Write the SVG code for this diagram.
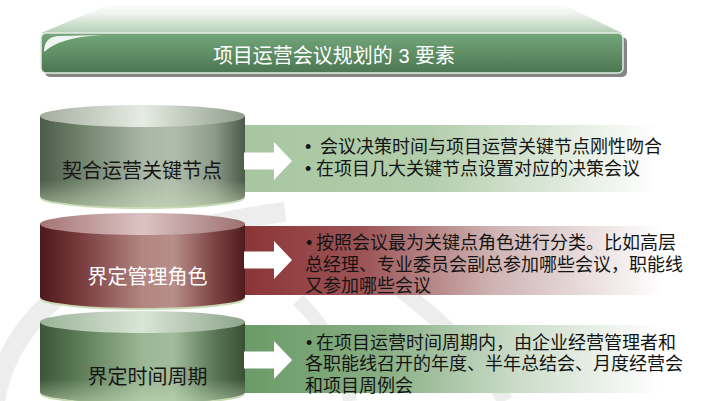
<svg xmlns="http://www.w3.org/2000/svg" width="720" height="401" viewBox="0 0 720 401">
<defs>
<style>
.cjk{font-family:"Liberation Sans","Noto Sans CJK SC",sans-serif;}
.title{font-size:20px;fill:#ffffff;}
.cyl{font-size:20px;}
.dark{fill:#161616;}
.light{fill:#ffffff;}
.body{font-size:18px;fill:#141414;}
.arrow{fill:#ffffff;}
.bg{fill:none;stroke:#ededed;}
</style>
<linearGradient id="trap" x1="0" y1="0" x2="0" y2="1">
<stop offset="0" stop-color="#ffffff"/>
<stop offset="0.35" stop-color="#eef4ee"/>
<stop offset="1" stop-color="#b3ceb3"/>
</linearGradient>
<linearGradient id="bar" x1="0" y1="0" x2="0" y2="1">
<stop offset="0" stop-color="#75a77b"/>
<stop offset="1" stop-color="#4b7650"/>
</linearGradient>
<linearGradient id="box1" x1="0" y1="0" x2="1" y2="0">
<stop offset="0" stop-color="#a7c6a0"/>
<stop offset="0.45" stop-color="#b2cdab"/>
<stop offset="0.75" stop-color="#dce8d9"/>
<stop offset="1" stop-color="#ffffff"/>
</linearGradient>
<linearGradient id="box2" x1="0" y1="0" x2="1" y2="0">
<stop offset="0" stop-color="#8b3336"/>
<stop offset="0.3" stop-color="#9d5557"/>
<stop offset="0.6" stop-color="#cfb3b3"/>
<stop offset="1" stop-color="#ffffff"/>
</linearGradient>
<linearGradient id="box3" x1="0" y1="0" x2="1" y2="0">
<stop offset="0" stop-color="#699a66"/>
<stop offset="0.35" stop-color="#89af85"/>
<stop offset="0.65" stop-color="#c9dbc7"/>
<stop offset="1" stop-color="#ffffff"/>
</linearGradient>
<linearGradient id="cb1" x1="40" y1="0" x2="245" y2="0" gradientUnits="userSpaceOnUse">
<stop offset="0" stop-color="#4b5c49"/>
<stop offset="0.18" stop-color="#6d7e69"/>
<stop offset="0.5" stop-color="#a8b6a3"/>
<stop offset="0.65" stop-color="#b1bdab"/>
<stop offset="0.85" stop-color="#8d9b89"/>
<stop offset="1" stop-color="#4c5b49"/>
</linearGradient>
<linearGradient id="ct1" x1="40" y1="0" x2="245" y2="0" gradientUnits="userSpaceOnUse">
<stop offset="0" stop-color="#a3ad9e"/>
<stop offset="0.5" stop-color="#e6ece3"/>
<stop offset="1" stop-color="#8e9b8a"/>
</linearGradient>
<linearGradient id="cb2" x1="40" y1="0" x2="245" y2="0" gradientUnits="userSpaceOnUse">
<stop offset="0" stop-color="#4d191b"/>
<stop offset="0.2" stop-color="#7a3c3e"/>
<stop offset="0.5" stop-color="#b28682"/>
<stop offset="0.65" stop-color="#b88e8a"/>
<stop offset="0.85" stop-color="#7e4445"/>
<stop offset="1" stop-color="#4e1b1d"/>
</linearGradient>
<linearGradient id="ct2" x1="40" y1="0" x2="245" y2="0" gradientUnits="userSpaceOnUse">
<stop offset="0" stop-color="#a57474"/>
<stop offset="0.5" stop-color="#dcc3c3"/>
<stop offset="1" stop-color="#9c7070"/>
</linearGradient>
<linearGradient id="cb3" x1="40" y1="0" x2="245" y2="0" gradientUnits="userSpaceOnUse">
<stop offset="0" stop-color="#3a5537"/>
<stop offset="0.2" stop-color="#5e7e59"/>
<stop offset="0.5" stop-color="#9bb795"/>
<stop offset="0.65" stop-color="#a2bc9b"/>
<stop offset="0.85" stop-color="#5b7757"/>
<stop offset="1" stop-color="#395034"/>
</linearGradient>
<linearGradient id="ct3" x1="40" y1="0" x2="245" y2="0" gradientUnits="userSpaceOnUse">
<stop offset="0" stop-color="#9ab398"/>
<stop offset="0.5" stop-color="#d9e6d6"/>
<stop offset="1" stop-color="#8da48a"/>
</linearGradient>
<linearGradient id="shine" x1="0" y1="0" x2="0" y2="1">
<stop offset="0" stop-color="#c8dcb8" stop-opacity="0"/>
<stop offset="0.7" stop-color="#c8dcb8" stop-opacity="0"/>
<stop offset="1" stop-color="#c8dcb8" stop-opacity="0.55"/>
</linearGradient>
</defs>

<rect x="0" y="0" width="720" height="401" fill="#ffffff"/>

<g id="background">
<path class="bg" d="M -5 401 C 12 300 120 232 285 212" stroke-width="20"/>
<path class="bg" d="M 298 300 C 330 330 346 368 350 401" stroke-width="14"/>
<path class="bg" d="M 360 262 C 420 300 478 350 505 401" stroke-width="16"/>
</g>

<g id="title">
<path d="M 113 3 L 560 3 L 622 33 L 41 33 Z" fill="url(#trap)"/>
<rect x="45" y="37" width="582" height="40" rx="5" fill="#858585"/>
<rect x="41" y="33" width="582" height="40" rx="5" fill="url(#bar)" stroke="#e3ede3" stroke-width="1.5"/>
<path d="M 44 52 Q 44 36 60 36 L 103 35 Q 60 37 44 52 Z" fill="#ffffff" opacity="0.9"/>
<text class="cjk title" x="334" y="63" text-anchor="middle">项目运营会议规划的 3 要素</text>
</g>

<g id="box1">
<rect x="238" y="125" width="420" height="67" rx="7" fill="url(#box1)"/>
<text class="cjk body" y="153"><tspan x="305">• </tspan><tspan x="320">会议决策时间与项目运营关键节点刚性吻合</tspan></text>
<text class="cjk body" y="175"><tspan x="305">•</tspan><tspan x="316">在项目几大关键节点设置对应的决策会议</tspan></text>
</g>

<g id="box2">
<rect x="238" y="226" width="425" height="69" rx="7" fill="url(#box2)"/>
<text class="cjk body" y="249"><tspan x="306">•</tspan><tspan x="316">按照会议最为关键点角色进行分类。比如高层</tspan></text>
<text class="cjk body" x="305" y="270.5">总经理、专业委员会副总参加哪些会议，职能线</text>
<text class="cjk body" x="305" y="292">又参加哪些会议</text>
</g>

<g id="box3">
<rect x="238" y="325" width="422" height="68" rx="7" fill="url(#box3)"/>
<text class="cjk body" y="349"><tspan x="306">•</tspan><tspan x="316">在项目运营时间周期内，由企业经营管理者和</tspan></text>
<text class="cjk body" x="305" y="370">各职能线召开的年度、半年总结会、月度经营会</text>
<text class="cjk body" x="305" y="391.5">和项目周例会</text>
</g>

<g id="cylinder1">
<ellipse cx="142.5" cy="198" rx="102.5" ry="11" fill="#c8dbb4"/>
<path d="M 40 116 L 40 196 A 102.5 11 0 0 0 245 196 L 245 116 Z" fill="url(#cb1)"/>
<path d="M 40 116 L 40 196 A 102.5 11 0 0 0 245 196 L 245 116 Z" fill="url(#shine)"/>
<ellipse cx="142.5" cy="116" rx="102.5" ry="11" fill="url(#ct1)"/>
<text class="cjk cyl dark" x="142" y="178" text-anchor="middle">契合运营关键节点</text>
</g>

<g id="cylinder2">
<ellipse cx="142.5" cy="299" rx="102.5" ry="11" fill="#c8dbb4"/>
<path d="M 40 224 L 40 297 A 102.5 11 0 0 0 245 297 L 245 224 Z" fill="url(#cb2)"/>
<ellipse cx="142.5" cy="224" rx="102.5" ry="11" fill="url(#ct2)"/>
<text class="cjk cyl light" x="147.5" y="284" text-anchor="middle">界定管理角色</text>
</g>

<g id="cylinder3">
<ellipse cx="142.5" cy="394" rx="102.5" ry="11" fill="#c8dbb4"/>
<path d="M 40 322 L 40 392 A 102.5 11 0 0 0 245 392 L 245 322 Z" fill="url(#cb3)"/>
<path d="M 40 322 L 40 392 A 102.5 11 0 0 0 245 392 L 245 322 Z" fill="url(#shine)"/>
<ellipse cx="142.5" cy="322" rx="102.5" ry="11" fill="url(#ct3)"/>
<text class="cjk cyl dark" x="147.5" y="384" text-anchor="middle">界定时间周期</text>
</g>

<g id="connectors">
<polygon class="arrow" points="244,152.5 274,152.5 274,142 292,161 274,180 274,169.5 244,169.5"/>
<polygon class="arrow" points="244,251.5 274,251.5 274,241 292,260 274,279 274,268.5 244,268.5"/>
<polygon class="arrow" points="244,351.5 274,351.5 274,341 292,360 274,379 274,368.5 244,368.5"/>
</g>
</svg>
